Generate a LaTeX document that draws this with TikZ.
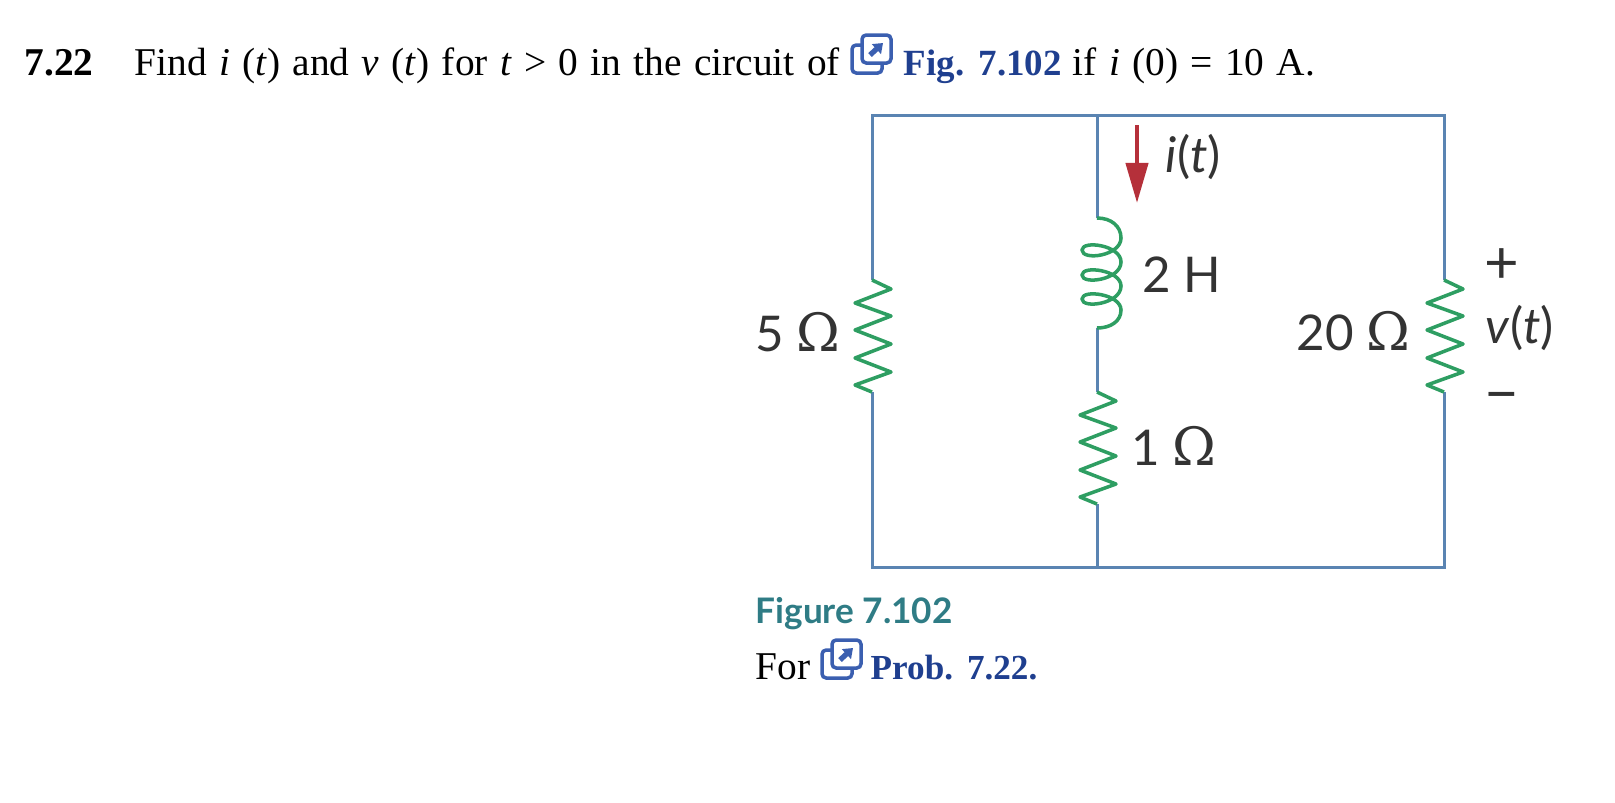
\documentclass[tikz,border=0pt]{standalone}
\usepackage{fontspec}
\setmainfont[WordSpace=1.25]{Liberation Serif}
\newfontfamily\labelfont{Lato}
\newfontfamily\ohmfont{DejaVu Serif}
\usetikzlibrary{arrows.meta}
\definecolor{wireblue}{HTML}{5A84B2}
\definecolor{partgreen}{HTML}{2E9E62}
\definecolor{arrowred}{HTML}{B5303A}
\definecolor{captionteal}{HTML}{2F7C85}
\definecolor{linkblue}{HTML}{1F3F8F}
\definecolor{iconblue}{HTML}{3B5FB0}
\definecolor{labelgray}{HTML}{333333}
\newcommand{\ohm}{{\ohmfont\fontsize{15}{16}\selectfont Ω}}
\tikzset{
	wire/.style={draw=wireblue, line width=0.85pt},
	part/.style={draw=partgreen, line width=1pt, line join=round},
	book/.style={inner sep=0pt, anchor=base west, font=\fontsize{11.2}{13}\selectfont},
	bookbold/.style={book, text=linkblue, font=\bfseries\fontsize{10.5}{13}\selectfont},
	value/.style={inner sep=0pt, anchor=base west, text=labelgray, font=\labelfont\fontsize{14}{16}\selectfont},
	signmark/.style={value, font=\labelfont\fontsize{17}{20}\selectfont},
	resistor/.pic={
		\draw [part] (0,0) -- (19,9) -- (-17,23) -- (19,36) -- (-17,50) -- (19,64) -- (-17,78) -- (19,92) -- (-17,105) -- (0,112) ;
	},
	inductor/.pic={
		\draw [part] (0,0) .. controls (14,0) and (24,8) .. (24,20)
			.. controls (24,38) and (-15,43) .. (-15,32)
			.. controls (-15,22) and (24,27) .. (24,44)
			.. controls (24,62) and (-15,67) .. (-15,57)
			.. controls (-15,47) and (24,52) .. (24,68)
			.. controls (24,86) and (-15,91) .. (-15,81)
			.. controls (-15,71) and (24,76) .. (24,92)
			.. controls (24,103) and (14,110) .. (0,110) ;
	},
	linkicon/.pic={
		\draw [draw=iconblue, line width=1pt, rounded corners=1.2pt] (0,0) rectangle (30,28) ;
		\draw [draw=iconblue, fill=white, line width=1pt, rounded corners=1.2pt] (10,-10) rectangle (39,18) ;
		\draw [draw=iconblue, line width=1.5pt, -{Triangle[length=0.09cm,width=0.13cm]}] (18,10) -- (31,-2) ;
	}
}
\begin{document}
\begin{tikzpicture}[x=0.01cm,y=-0.01cm]
	\useasboundingbox (0,0) rectangle (1615,802) ;

	% problem statement
	\node [book] (num) at (24,75) {\textbf{7.22}} ;
	\node [book] (prob) at (134,75) {Find \textit{i} (\textit{t}) and \textit{v} (\textit{t}) for \textit{t} > 0 in the circuit of} ;
	\pic at (852,45) {linkicon} ;
	\node [bookbold] (figlink) at (903,75) {Fig. 7.102} ;
	\node [book] (cond) at (1072,75) {if \textit{i} (0) = 10 A.} ;

	\coordinate (tl) at (872,115) ;
	\coordinate (tm) at (1097,115) ;
	\coordinate (tr) at (1444,115) ;
	\coordinate (bl) at (872,567) ;
	\coordinate (bm) at (1097,567) ;
	\coordinate (br) at (1444,567) ;
	\coordinate (rfivea) at (872,280) ;
	\coordinate (rfiveb) at (872,392) ;
	\coordinate (rtwentya) at (1444,280) ;
	\coordinate (rtwentyb) at (1444,392) ;
	\coordinate (coila) at (1097,218) ;
	\coordinate (coilb) at (1097,328) ;
	\coordinate (ronea) at (1097,392) ;
	\coordinate (roneb) at (1097,504) ;
	\coordinate (arrowa) at (1137,125) ;
	\coordinate (arrowb) at (1137,203) ;

	\draw [wire] (rfivea) -- (tl) -- (tr) -- (rtwentya) ;
	\draw [wire] (rfiveb) -- (bl) -- (br) -- (rtwentyb) ;
	\draw [wire] (tm) -- (coila) ;
	\draw [wire] (coilb) -- (ronea) ;
	\draw [wire] (roneb) -- (bm) ;

	\pic at (rfivea) {resistor} ;
	\pic at (rtwentya) {resistor} ;
	\pic at (ronea) {resistor} ;
	\pic at (coila) {inductor} ;

	\draw [draw=arrowred, line width=1.2pt, -{Triangle[length=0.4cm,width=0.22cm]}] (arrowa) -- (arrowb) ;

	\node [value] (cur) at (1165,172) {\textit{i}(\textit{t})} ;
	\node [value] (ltwo) at (1142,292) {2 H} ;
	\node [value] (rfive) at (755,351) {5 \ohm} ;
	\node [value] (rone) at (1131,465) {1 \ohm} ;
	\node [value] (rtwenty) at (1296,350) {20 \ohm} ;
	\node [signmark] (plus) at (1484,283) {+} ;
	\node [value] (volt) at (1485,343) {\textit{v}(\textit{t})} ;
	\node [signmark] (minus) at (1484,414) {−} ;

	% caption
	\node [value, text=captionteal, font=\labelfont\bfseries\fontsize{10}{12}\selectfont] (capt) at (755,623) {Figure 7.102} ;
	\node [book] (capfor) at (755,679) {For} ;
	\pic at (822,650) {linkicon} ;
	\node [bookbold, font=\bfseries\fontsize{10}{12}\selectfont] (caplink) at (870,679) {Prob. 7.22.} ;
\end{tikzpicture}
\end{document}
